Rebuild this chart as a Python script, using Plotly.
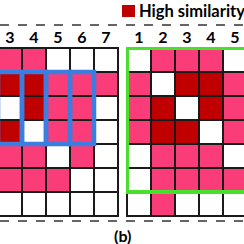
import plotly.graph_objects as go

# ---------------- data ----------------
# 0 = dissimilar (white), 1 = similar (pink), 2 = high similarity (dark red)
left_cols = [3, 4, 5, 6, 7]
left_rows = [1, 2, 3, 4, 5, 6, 7]
left_z = [
    [1, 1, 0, 0, 0],
    [2, 2, 1, 1, 1],
    [0, 2, 1, 1, 0],
    [2, 0, 1, 1, 0],
    [1, 1, 0, 1, 0],
    [1, 1, 1, 0, 0],
    [0, 0, 0, 0, 0],
]

right_cols = [1, 2, 3, 4, 5]
right_rows = [1, 2, 3, 4, 5, 6, 7]
right_z = [
    [0, 1, 1, 1, 0],
    [1, 0, 2, 2, 1],
    [1, 2, 0, 2, 1],
    [1, 2, 2, 0, 1],
    [0, 1, 1, 1, 0],
    [0, 1, 1, 1, 1],
    [0, 1, 0, 0, 0],
]

blue_window_cols = [3, 4, 5, 6]
blue_window_rows = (2, 4)
green_window_cols = (1, 5)
green_window_rows = (1, 6)

legend_label = "High similarity"
panel_label = "(b)"

# ---------------- styles ----------------
W = H = 244
PX = 24.0  # pixels per cell
WHITE = "#ffffff"
PINK = "#fa3d78"
DARK = "#c00000"
BLUE = "#3b7ee0"
GREEN = "#48e02a"
FONT = "Lato"

colorscale = [[0, WHITE], [0.333, WHITE], [0.333, PINK], [0.667, PINK],
              [0.667, DARK], [1, DARK]]

fig = go.Figure()
fig.add_trace(go.Heatmap(x=left_cols, y=left_rows, z=left_z, zmin=0, zmax=2,
                         colorscale=colorscale, showscale=False, xgap=2, ygap=2,
                         xaxis="x", yaxis="y", hoverinfo="skip"))
fig.add_trace(go.Heatmap(x=right_cols, y=right_rows, z=right_z, zmin=0, zmax=2,
                         colorscale=colorscale, showscale=False, xgap=2, ygap=2,
                         xaxis="x2", yaxis="y2", hoverinfo="skip"))

# geometry (pixels)
left_px = (0, 119)
right_px = (126, 244)
top_px, bot_px = 47, 217

lx1 = max(left_cols) + 0.5 + 1 / PX
lx0 = lx1 - (left_px[1] - left_px[0]) / PX
rx0 = min(right_cols) - 0.5 - 1 / PX
rx1 = rx0 + (right_px[1] - right_px[0]) / PX
ybot = max(left_rows) + 0.5 + 1 / PX
ytop = ybot - (bot_px - top_px) / PX

tickfont = dict(family=FONT, size=16, color="black", weight="bold")
common_x = dict(side="top", showgrid=False, zeroline=False, ticks="",
                tickfont=tickfont, fixedrange=True)
common_y = dict(showgrid=False, zeroline=False, showticklabels=False,
                ticks="", fixedrange=True,
                domain=[1 - bot_px / H, 1 - top_px / H])

fig.update_layout(
    width=W, height=H, margin=dict(l=0, r=0, t=0, b=0),
    paper_bgcolor="white", plot_bgcolor="#1a1a1a", showlegend=False,
    xaxis=dict(common_x, domain=[left_px[0] / W, left_px[1] / W],
               range=[lx0, lx1], tickvals=left_cols,
               ticktext=[str(c) for c in left_cols], anchor="y"),
    yaxis=dict(common_y, range=[ybot, ytop], anchor="x"),
    xaxis2=dict(common_x, domain=[right_px[0] / W, right_px[1] / W],
                range=[rx0, rx1], tickvals=right_cols,
                ticktext=[str(c) for c in right_cols], anchor="y2"),
    yaxis2=dict(common_y, range=[ybot, ytop], anchor="x2"),
)

shapes = []
for c in blue_window_cols:
    shapes.append(dict(type="rect", xref="x", yref="y",
                       x0=c - 0.5, x1=c + 0.5,
                       y0=blue_window_rows[0] - 0.5, y1=blue_window_rows[1] + 0.5,
                       line=dict(color=BLUE, width=4.5)))
shapes.append(dict(type="rect", xref="x2", yref="y2",
                   x0=green_window_cols[0] - 0.5, x1=green_window_cols[1] + 1.5,
                   y0=green_window_rows[0] - 0.5, y1=green_window_rows[1] + 0.5,
                   line=dict(color=GREEN, width=4)))
# dashed separators
for ypx in (25, 221):
    shapes.append(dict(type="line", xref="paper", yref="paper", x0=0, x1=1,
                       y0=1 - ypx / H, y1=1 - ypx / H,
                       line=dict(color="#333333", width=1.5, dash="dash")))
# legend swatch
shapes.append(dict(type="rect", xref="paper", yref="paper",
                   x0=122 / W, x1=135 / W, y0=1 - 17 / H, y1=1 - 5 / H,
                   line=dict(width=0), fillcolor=DARK))
fig.update_layout(shapes=shapes)

fig.add_annotation(text=legend_label, xref="paper", yref="paper",
                   x=137 / W, y=1 - 11.5 / H, xanchor="left", yanchor="middle",
                   showarrow=False,
                   font=dict(family=FONT, size=16.5, color="black", weight="bold"))
fig.add_annotation(text=panel_label, xref="paper", yref="paper",
                   x=123 / W, y=1 - 235 / H, xanchor="center", yanchor="middle",
                   showarrow=False,
                   font=dict(family=FONT, size=16, color="black", weight="bold"))

fig.write_html("out.html")
